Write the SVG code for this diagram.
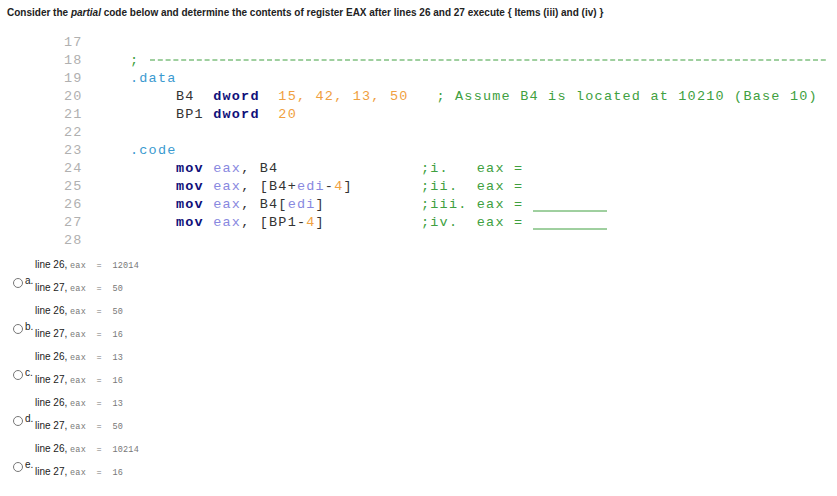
<svg xmlns="http://www.w3.org/2000/svg" width="837" height="496" viewBox="0 0 837 496">
<style>
text{white-space:pre}
.m{font-family:"Liberation Mono",monospace;font-size:13.5px;letter-spacing:1.2px}
.n{fill:#b0b0b0}
.b{fill:#3a9ad0}
.k{fill:#10107a;font-weight:bold}
.o{fill:#f0a040}
.g{fill:#40a040}
.e{fill:#8888e0}
.t{fill:#333}
.s{font-family:"Liberation Sans",Arial,sans-serif;font-size:10px;fill:#222}
.v{font-family:"Liberation Mono",monospace;font-size:8.5px;fill:#777;letter-spacing:0.2px}
circle{fill:#fff;stroke:#777;stroke-width:1}
</style>
<rect width="837" height="496" fill="#fff"/>
<text x="7" y="16" class="s" style="font-weight:bold;font-size:10px">Consider the <tspan font-style="italic">partial</tspan> code below and determine the contents of register EAX after lines 26 and 27 execute { Items (iii) and (iv) }</text>
<g class="m">
<text class="n" x="64" y="46">17</text>
<text class="n" x="64" y="64">18</text>
<text class="n" x="64" y="82">19</text>
<text class="n" x="64" y="100">20</text>
<text class="n" x="64" y="118">21</text>
<text class="n" x="64" y="136">22</text>
<text class="n" x="64" y="154">23</text>
<text class="n" x="64" y="172">24</text>
<text class="n" x="64" y="190">25</text>
<text class="n" x="64" y="208">26</text>
<text class="n" x="64" y="226">27</text>
<text class="n" x="64" y="244">28</text>
<text class="g" x="130" y="64">;</text>
<line x1="150" y1="60" x2="826" y2="60" stroke="#40a040" stroke-width="1" stroke-dasharray="5,2.8"/>
<text class="b" x="130" y="82">.data</text>
<text x="176" y="100"><tspan class="t">B4  </tspan><tspan class="k">dword</tspan><tspan class="o">  15, 42, 13, 50</tspan><tspan class="g">   ; Assume B4 is located at 10210 (Base 10)</tspan></text>
<text x="176" y="118"><tspan class="t">BP1 </tspan><tspan class="k">dword</tspan><tspan class="o">  20</tspan></text>
<text class="b" x="130" y="154">.code</text>
<text x="176" y="172"><tspan class="k">mov</tspan><tspan class="e"> eax</tspan><tspan class="t">, B4</tspan></text>
<text x="176" y="190"><tspan class="k">mov</tspan><tspan class="e"> eax</tspan><tspan class="t">, [B4+</tspan><tspan class="e">edi</tspan><tspan class="t">-</tspan><tspan class="o">4</tspan><tspan class="t">]</tspan></text>
<text x="176" y="208"><tspan class="k">mov</tspan><tspan class="e"> eax</tspan><tspan class="t">, B4[</tspan><tspan class="e">edi</tspan><tspan class="t">]</tspan></text>
<text x="176" y="226"><tspan class="k">mov</tspan><tspan class="e"> eax</tspan><tspan class="t">, [BP1-</tspan><tspan class="o">4</tspan><tspan class="t">]</tspan></text>
<text class="g" x="421" y="172">;i.   eax =</text>
<text class="g" x="421" y="190">;ii.  eax =</text>
<text class="g" x="421" y="208">;iii. eax =</text>
<text class="g" x="421" y="226">;iv.  eax =</text>
</g>
<line x1="533" y1="211" x2="607" y2="211" stroke="#40a040"/>
<line x1="533" y1="229" x2="607" y2="229" stroke="#40a040"/>
<g>
<text class="s" x="35" y="268">line 26, <tspan class="v">eax  =  12014</tspan></text>
<circle cx="18" cy="283" r="4.5"/><text class="s" x="25" y="284">a.</text>
<text class="s" x="35" y="291">line 27, <tspan class="v">eax  =  50</tspan></text>
<text class="s" x="35" y="314">line 26, <tspan class="v">eax  =  50</tspan></text>
<circle cx="18" cy="329" r="4.5"/><text class="s" x="25" y="330">b.</text>
<text class="s" x="35" y="337">line 27, <tspan class="v">eax  =  16</tspan></text>
<text class="s" x="35" y="360">line 26, <tspan class="v">eax  =  13</tspan></text>
<circle cx="18" cy="375" r="4.5"/><text class="s" x="25" y="376">c.</text>
<text class="s" x="35" y="383">line 27, <tspan class="v">eax  =  16</tspan></text>
<text class="s" x="35" y="406">line 26, <tspan class="v">eax  =  13</tspan></text>
<circle cx="18" cy="421" r="4.5"/><text class="s" x="25" y="422">d.</text>
<text class="s" x="35" y="429">line 27, <tspan class="v">eax  =  50</tspan></text>
<text class="s" x="35" y="452">line 26, <tspan class="v">eax  =  10214</tspan></text>
<circle cx="18" cy="467" r="4.5"/><text class="s" x="25" y="468">e.</text>
<text class="s" x="35" y="475">line 27, <tspan class="v">eax  =  16</tspan></text>
</g>
</svg>
